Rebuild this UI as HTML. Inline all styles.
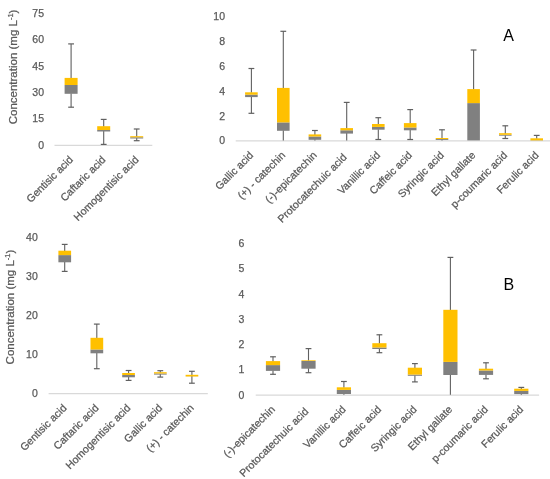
<!DOCTYPE html>
<html><head><meta charset="utf-8"><style>
html,body{margin:0;padding:0;background:#fff;}
svg{display:block;will-change:transform;}
text{font-family:"Liberation Sans", sans-serif;}
.tk{font-size:10.5px;fill:#595959;stroke:#595959;stroke-width:0.25px;}
.ct{font-size:10.6px;fill:#595959;stroke:#595959;stroke-width:0.25px;}
.yt{font-size:11.5px;fill:#595959;stroke:#595959;stroke-width:0.25px;}
.big{font-size:16px;fill:#000;}
</style></head><body>
<svg width="550" height="479" viewBox="0 0 550 479">
<line x1="54.5" y1="145.3" x2="152.3" y2="145.3" stroke="#d9d9d9" stroke-width="1.2"/>
<text x="44.0" y="148.8" text-anchor="end" class="tk">0</text>
<text x="44.0" y="122.4" text-anchor="end" class="tk">15</text>
<text x="44.0" y="96.0" text-anchor="end" class="tk">30</text>
<text x="44.0" y="69.6" text-anchor="end" class="tk">45</text>
<text x="44.0" y="43.2" text-anchor="end" class="tk">60</text>
<text x="44.0" y="16.8" text-anchor="end" class="tk">75</text>
<line x1="71.1" y1="43.9" x2="71.1" y2="78.4" stroke="#606060" stroke-width="1.1"/>
<line x1="71.1" y1="93.3" x2="71.1" y2="107.2" stroke="#606060" stroke-width="1.1"/>
<line x1="68.2" y1="43.9" x2="74.0" y2="43.9" stroke="#606060" stroke-width="1.2"/>
<line x1="68.2" y1="107.2" x2="74.0" y2="107.2" stroke="#606060" stroke-width="1.2"/>
<rect x="64.6" y="85.0" width="13.0" height="8.8" fill="#808080"/>
<rect x="64.6" y="77.9" width="13.0" height="7.1" fill="#FFC000"/>
<text transform="translate(73.7,160.3) rotate(-45)" text-anchor="end" class="ct">Gentisic acid</text>
<line x1="103.7" y1="119.4" x2="103.7" y2="126.7" stroke="#606060" stroke-width="1.1"/>
<line x1="103.7" y1="131.0" x2="103.7" y2="144.4" stroke="#606060" stroke-width="1.1"/>
<line x1="100.8" y1="119.4" x2="106.6" y2="119.4" stroke="#606060" stroke-width="1.2"/>
<line x1="100.8" y1="144.4" x2="106.6" y2="144.4" stroke="#606060" stroke-width="1.2"/>
<rect x="97.2" y="130.0" width="13.0" height="1.5" fill="#808080"/>
<rect x="97.2" y="126.2" width="13.0" height="3.8" fill="#FFC000"/>
<text transform="translate(106.3,160.3) rotate(-45)" text-anchor="end" class="ct">Caftaric acid</text>
<line x1="136.7" y1="129.0" x2="136.7" y2="136.7" stroke="#606060" stroke-width="1.1"/>
<line x1="136.7" y1="138.0" x2="136.7" y2="140.7" stroke="#606060" stroke-width="1.1"/>
<line x1="133.8" y1="129.0" x2="139.6" y2="129.0" stroke="#606060" stroke-width="1.2"/>
<line x1="133.8" y1="140.7" x2="139.6" y2="140.7" stroke="#606060" stroke-width="1.2"/>
<rect x="130.2" y="137.3" width="13.0" height="1.2" fill="#808080"/>
<rect x="130.2" y="136.2" width="13.0" height="1.1" fill="#FFC000"/>
<text transform="translate(139.3,160.3) rotate(-45)" text-anchor="end" class="ct">Homogentisic acid</text>
<line x1="235.7" y1="140.9" x2="552.0" y2="140.9" stroke="#d9d9d9" stroke-width="1.2"/>
<text x="225.0" y="144.4" text-anchor="end" class="tk">0</text>
<text x="225.0" y="119.5" text-anchor="end" class="tk">2</text>
<text x="225.0" y="94.7" text-anchor="end" class="tk">4</text>
<text x="225.0" y="69.8" text-anchor="end" class="tk">6</text>
<text x="225.0" y="44.9" text-anchor="end" class="tk">8</text>
<text x="225.0" y="20.1" text-anchor="end" class="tk">10</text>
<line x1="251.4" y1="68.5" x2="251.4" y2="92.8" stroke="#606060" stroke-width="1.1"/>
<line x1="251.4" y1="96.6" x2="251.4" y2="113.3" stroke="#606060" stroke-width="1.1"/>
<line x1="248.5" y1="68.5" x2="254.3" y2="68.5" stroke="#606060" stroke-width="1.2"/>
<line x1="248.5" y1="113.3" x2="254.3" y2="113.3" stroke="#606060" stroke-width="1.2"/>
<rect x="245.1" y="94.7" width="12.6" height="2.4" fill="#808080"/>
<rect x="245.1" y="92.3" width="12.6" height="2.4" fill="#FFC000"/>
<text transform="translate(254.0,155.9) rotate(-45)" text-anchor="end" class="ct">Gallic acid</text>
<line x1="283.3" y1="31.3" x2="283.3" y2="88.4" stroke="#606060" stroke-width="1.1"/>
<line x1="283.3" y1="130.3" x2="283.3" y2="140.6" stroke="#606060" stroke-width="1.1"/>
<line x1="280.4" y1="31.3" x2="286.2" y2="31.3" stroke="#606060" stroke-width="1.2"/>
<rect x="277.0" y="122.4" width="12.6" height="8.4" fill="#808080"/>
<rect x="277.0" y="87.9" width="12.6" height="34.5" fill="#FFC000"/>
<text transform="translate(285.9,155.9) rotate(-45)" text-anchor="end" class="ct">(+) - catechin</text>
<line x1="314.9" y1="130.5" x2="314.9" y2="134.9" stroke="#606060" stroke-width="1.1"/>
<line x1="314.9" y1="139.3" x2="314.9" y2="140.4" stroke="#606060" stroke-width="1.1"/>
<line x1="312.0" y1="130.5" x2="317.8" y2="130.5" stroke="#606060" stroke-width="1.2"/>
<rect x="308.6" y="136.5" width="12.6" height="3.3" fill="#808080"/>
<rect x="308.6" y="134.4" width="12.6" height="2.1" fill="#FFC000"/>
<text transform="translate(317.5,155.9) rotate(-45)" text-anchor="end" class="ct">(-)-epicatechin</text>
<line x1="346.7" y1="102.4" x2="346.7" y2="128.6" stroke="#606060" stroke-width="1.1"/>
<line x1="346.7" y1="133.1" x2="346.7" y2="140.4" stroke="#606060" stroke-width="1.1"/>
<line x1="343.8" y1="102.4" x2="349.6" y2="102.4" stroke="#606060" stroke-width="1.2"/>
<rect x="340.4" y="130.3" width="12.6" height="3.3" fill="#808080"/>
<rect x="340.4" y="128.1" width="12.6" height="2.2" fill="#FFC000"/>
<text transform="translate(347.4,157.9) rotate(-45)" text-anchor="end" class="ct">Protocatechuic acid</text>
<line x1="378.3" y1="117.7" x2="378.3" y2="124.5" stroke="#606060" stroke-width="1.1"/>
<line x1="378.3" y1="129.2" x2="378.3" y2="139.5" stroke="#606060" stroke-width="1.1"/>
<line x1="375.4" y1="117.7" x2="381.2" y2="117.7" stroke="#606060" stroke-width="1.2"/>
<line x1="375.4" y1="139.5" x2="381.2" y2="139.5" stroke="#606060" stroke-width="1.2"/>
<rect x="372.0" y="126.9" width="12.6" height="2.8" fill="#808080"/>
<rect x="372.0" y="124.0" width="12.6" height="2.9" fill="#FFC000"/>
<text transform="translate(380.9,155.9) rotate(-45)" text-anchor="end" class="ct">Vanillic acid</text>
<line x1="410.2" y1="109.6" x2="410.2" y2="123.6" stroke="#606060" stroke-width="1.1"/>
<line x1="410.2" y1="129.8" x2="410.2" y2="139.5" stroke="#606060" stroke-width="1.1"/>
<line x1="407.3" y1="109.6" x2="413.1" y2="109.6" stroke="#606060" stroke-width="1.2"/>
<line x1="407.3" y1="139.5" x2="413.1" y2="139.5" stroke="#606060" stroke-width="1.2"/>
<rect x="403.9" y="127.5" width="12.6" height="2.8" fill="#808080"/>
<rect x="403.9" y="123.1" width="12.6" height="4.4" fill="#FFC000"/>
<text transform="translate(412.8,155.9) rotate(-45)" text-anchor="end" class="ct">Caffeic acid</text>
<line x1="442.0" y1="129.8" x2="442.0" y2="138.5" stroke="#606060" stroke-width="1.1"/>
<line x1="442.0" y1="139.4" x2="442.0" y2="140.4" stroke="#606060" stroke-width="1.1"/>
<line x1="439.1" y1="129.8" x2="444.9" y2="129.8" stroke="#606060" stroke-width="1.2"/>
<rect x="435.7" y="139.0" width="12.6" height="0.9" fill="#808080"/>
<rect x="435.7" y="138.0" width="12.6" height="1.0" fill="#FFC000"/>
<text transform="translate(444.6,155.9) rotate(-45)" text-anchor="end" class="ct">Syringic acid</text>
<line x1="473.6" y1="50.0" x2="473.6" y2="89.6" stroke="#606060" stroke-width="1.1"/>
<line x1="470.7" y1="50.0" x2="476.5" y2="50.0" stroke="#606060" stroke-width="1.2"/>
<rect x="467.3" y="103.1" width="12.6" height="37.3" fill="#808080"/>
<rect x="467.3" y="89.1" width="12.6" height="14.0" fill="#FFC000"/>
<text transform="translate(476.2,155.9) rotate(-45)" text-anchor="end" class="ct">Ethyl gallate</text>
<line x1="505.3" y1="125.8" x2="505.3" y2="133.7" stroke="#606060" stroke-width="1.1"/>
<line x1="505.3" y1="135.2" x2="505.3" y2="138.5" stroke="#606060" stroke-width="1.1"/>
<line x1="502.4" y1="125.8" x2="508.2" y2="125.8" stroke="#606060" stroke-width="1.2"/>
<line x1="502.4" y1="138.5" x2="508.2" y2="138.5" stroke="#606060" stroke-width="1.2"/>
<rect x="499.0" y="134.8" width="12.6" height="0.9" fill="#808080"/>
<rect x="499.0" y="133.2" width="12.6" height="1.6" fill="#FFC000"/>
<text transform="translate(507.9,155.9) rotate(-45)" text-anchor="end" class="ct">p-coumaric acid</text>
<line x1="536.7" y1="135.4" x2="536.7" y2="138.8" stroke="#606060" stroke-width="1.1"/>
<line x1="533.8" y1="135.4" x2="539.6" y2="135.4" stroke="#606060" stroke-width="1.2"/>
<rect x="530.4" y="140.4" width="12.6" height="0.2" fill="#808080"/>
<rect x="530.4" y="138.3" width="12.6" height="2.1" fill="#FFC000"/>
<text transform="translate(539.3,155.9) rotate(-45)" text-anchor="end" class="ct">Ferulic acid</text>
<line x1="48.6" y1="393.6" x2="207.8" y2="393.6" stroke="#d9d9d9" stroke-width="1.2"/>
<text x="37.8" y="397.1" text-anchor="end" class="tk">0</text>
<text x="37.8" y="358.0" text-anchor="end" class="tk">10</text>
<text x="37.8" y="318.8" text-anchor="end" class="tk">20</text>
<text x="37.8" y="279.7" text-anchor="end" class="tk">30</text>
<text x="37.8" y="240.6" text-anchor="end" class="tk">40</text>
<line x1="64.7" y1="244.4" x2="64.7" y2="251.2" stroke="#606060" stroke-width="1.1"/>
<line x1="64.7" y1="261.8" x2="64.7" y2="271.4" stroke="#606060" stroke-width="1.1"/>
<line x1="61.8" y1="244.4" x2="67.6" y2="244.4" stroke="#606060" stroke-width="1.2"/>
<line x1="61.8" y1="271.4" x2="67.6" y2="271.4" stroke="#606060" stroke-width="1.2"/>
<rect x="58.4" y="255.1" width="12.7" height="7.2" fill="#808080"/>
<rect x="58.4" y="250.7" width="12.7" height="4.4" fill="#FFC000"/>
<text transform="translate(67.3,408.6) rotate(-45)" text-anchor="end" class="ct">Gentisic acid</text>
<line x1="96.8" y1="324.1" x2="96.8" y2="338.3" stroke="#606060" stroke-width="1.1"/>
<line x1="96.8" y1="352.8" x2="96.8" y2="368.7" stroke="#606060" stroke-width="1.1"/>
<line x1="93.9" y1="324.1" x2="99.7" y2="324.1" stroke="#606060" stroke-width="1.2"/>
<line x1="93.9" y1="368.7" x2="99.7" y2="368.7" stroke="#606060" stroke-width="1.2"/>
<rect x="90.5" y="349.5" width="12.7" height="3.8" fill="#808080"/>
<rect x="90.5" y="337.8" width="12.7" height="11.7" fill="#FFC000"/>
<text transform="translate(99.4,408.6) rotate(-45)" text-anchor="end" class="ct">Caftaric acid</text>
<line x1="128.6" y1="370.5" x2="128.6" y2="373.5" stroke="#606060" stroke-width="1.1"/>
<line x1="128.6" y1="376.8" x2="128.6" y2="380.4" stroke="#606060" stroke-width="1.1"/>
<line x1="125.7" y1="370.5" x2="131.5" y2="370.5" stroke="#606060" stroke-width="1.2"/>
<line x1="125.7" y1="380.4" x2="131.5" y2="380.4" stroke="#606060" stroke-width="1.2"/>
<rect x="122.2" y="375.0" width="12.7" height="2.3" fill="#808080"/>
<rect x="122.2" y="373.0" width="12.7" height="2.0" fill="#FFC000"/>
<text transform="translate(131.2,408.6) rotate(-45)" text-anchor="end" class="ct">Homogentisic acid</text>
<line x1="160.3" y1="370.7" x2="160.3" y2="372.7" stroke="#606060" stroke-width="1.1"/>
<line x1="160.3" y1="374.1" x2="160.3" y2="377.1" stroke="#606060" stroke-width="1.1"/>
<line x1="157.4" y1="370.7" x2="163.2" y2="370.7" stroke="#606060" stroke-width="1.2"/>
<line x1="157.4" y1="377.1" x2="163.2" y2="377.1" stroke="#606060" stroke-width="1.2"/>
<rect x="154.0" y="373.5" width="12.7" height="1.1" fill="#808080"/>
<rect x="154.0" y="372.2" width="12.7" height="1.3" fill="#FFC000"/>
<text transform="translate(162.9,408.6) rotate(-45)" text-anchor="end" class="ct">Gallic acid</text>
<line x1="191.9" y1="371.3" x2="191.9" y2="375.3" stroke="#606060" stroke-width="1.1"/>
<line x1="191.9" y1="376.1" x2="191.9" y2="383.2" stroke="#606060" stroke-width="1.1"/>
<line x1="189.0" y1="371.3" x2="194.8" y2="371.3" stroke="#606060" stroke-width="1.2"/>
<line x1="189.0" y1="383.2" x2="194.8" y2="383.2" stroke="#606060" stroke-width="1.2"/>
<rect x="185.6" y="376.5" width="12.7" height="0.1" fill="#808080"/>
<rect x="185.6" y="374.8" width="12.7" height="1.7" fill="#FFC000"/>
<text transform="translate(194.5,408.6) rotate(-45)" text-anchor="end" class="ct">(+) - catechin</text>
<line x1="255.7" y1="395.1" x2="539.1" y2="395.1" stroke="#d9d9d9" stroke-width="1.2"/>
<text x="244.3" y="398.6" text-anchor="end" class="tk">0</text>
<text x="244.3" y="373.3" text-anchor="end" class="tk">1</text>
<text x="244.3" y="348.0" text-anchor="end" class="tk">2</text>
<text x="244.3" y="322.8" text-anchor="end" class="tk">3</text>
<text x="244.3" y="297.5" text-anchor="end" class="tk">4</text>
<text x="244.3" y="272.3" text-anchor="end" class="tk">5</text>
<text x="244.3" y="247.0" text-anchor="end" class="tk">6</text>
<line x1="273.0" y1="356.8" x2="273.0" y2="361.6" stroke="#606060" stroke-width="1.1"/>
<line x1="273.0" y1="370.4" x2="273.0" y2="374.3" stroke="#606060" stroke-width="1.1"/>
<line x1="270.1" y1="356.8" x2="275.9" y2="356.8" stroke="#606060" stroke-width="1.2"/>
<line x1="270.1" y1="374.3" x2="275.9" y2="374.3" stroke="#606060" stroke-width="1.2"/>
<rect x="265.9" y="365.1" width="14.2" height="5.8" fill="#808080"/>
<rect x="265.9" y="361.1" width="14.2" height="4.0" fill="#FFC000"/>
<text transform="translate(275.6,410.1) rotate(-45)" text-anchor="end" class="ct">(-)-epicatechin</text>
<line x1="308.5" y1="348.6" x2="308.5" y2="360.8" stroke="#606060" stroke-width="1.1"/>
<line x1="308.5" y1="368.2" x2="308.5" y2="372.7" stroke="#606060" stroke-width="1.1"/>
<line x1="305.6" y1="348.6" x2="311.4" y2="348.6" stroke="#606060" stroke-width="1.2"/>
<line x1="305.6" y1="372.7" x2="311.4" y2="372.7" stroke="#606060" stroke-width="1.2"/>
<rect x="301.4" y="361.0" width="14.2" height="7.7" fill="#808080"/>
<rect x="301.4" y="360.3" width="14.2" height="0.7" fill="#FFC000"/>
<text transform="translate(309.2,412.1) rotate(-45)" text-anchor="end" class="ct">Protocatechuic acid</text>
<line x1="343.9" y1="381.5" x2="343.9" y2="387.8" stroke="#606060" stroke-width="1.1"/>
<line x1="343.9" y1="393.5" x2="343.9" y2="394.8" stroke="#606060" stroke-width="1.1"/>
<line x1="341.0" y1="381.5" x2="346.8" y2="381.5" stroke="#606060" stroke-width="1.2"/>
<rect x="336.8" y="389.9" width="14.2" height="4.1" fill="#808080"/>
<rect x="336.8" y="387.3" width="14.2" height="2.6" fill="#FFC000"/>
<text transform="translate(346.5,410.1) rotate(-45)" text-anchor="end" class="ct">Vanillic acid</text>
<line x1="379.4" y1="334.8" x2="379.4" y2="343.7" stroke="#606060" stroke-width="1.1"/>
<line x1="379.4" y1="348.5" x2="379.4" y2="352.7" stroke="#606060" stroke-width="1.1"/>
<line x1="376.5" y1="334.8" x2="382.3" y2="334.8" stroke="#606060" stroke-width="1.2"/>
<line x1="376.5" y1="352.7" x2="382.3" y2="352.7" stroke="#606060" stroke-width="1.2"/>
<rect x="372.3" y="347.5" width="14.2" height="1.5" fill="#808080"/>
<rect x="372.3" y="343.2" width="14.2" height="4.3" fill="#FFC000"/>
<text transform="translate(382.0,410.1) rotate(-45)" text-anchor="end" class="ct">Caffeic acid</text>
<line x1="414.9" y1="363.6" x2="414.9" y2="368.2" stroke="#606060" stroke-width="1.1"/>
<line x1="414.9" y1="375.3" x2="414.9" y2="381.9" stroke="#606060" stroke-width="1.1"/>
<line x1="412.0" y1="363.6" x2="417.8" y2="363.6" stroke="#606060" stroke-width="1.2"/>
<line x1="412.0" y1="381.9" x2="417.8" y2="381.9" stroke="#606060" stroke-width="1.2"/>
<rect x="407.8" y="374.6" width="14.2" height="1.2" fill="#808080"/>
<rect x="407.8" y="367.7" width="14.2" height="6.9" fill="#FFC000"/>
<text transform="translate(417.5,410.1) rotate(-45)" text-anchor="end" class="ct">Syringic acid</text>
<line x1="450.4" y1="257.4" x2="450.4" y2="310.3" stroke="#606060" stroke-width="1.1"/>
<line x1="450.4" y1="374.5" x2="450.4" y2="394.8" stroke="#606060" stroke-width="1.1"/>
<line x1="447.5" y1="257.4" x2="453.3" y2="257.4" stroke="#606060" stroke-width="1.2"/>
<rect x="443.3" y="361.9" width="14.2" height="13.1" fill="#808080"/>
<rect x="443.3" y="309.8" width="14.2" height="52.1" fill="#FFC000"/>
<text transform="translate(453.0,410.1) rotate(-45)" text-anchor="end" class="ct">Ethyl gallate</text>
<line x1="486.0" y1="362.8" x2="486.0" y2="369.2" stroke="#606060" stroke-width="1.1"/>
<line x1="486.0" y1="374.4" x2="486.0" y2="378.8" stroke="#606060" stroke-width="1.1"/>
<line x1="483.1" y1="362.8" x2="488.9" y2="362.8" stroke="#606060" stroke-width="1.2"/>
<line x1="483.1" y1="378.8" x2="488.9" y2="378.8" stroke="#606060" stroke-width="1.2"/>
<rect x="478.9" y="370.5" width="14.2" height="4.4" fill="#808080"/>
<rect x="478.9" y="368.7" width="14.2" height="1.8" fill="#FFC000"/>
<text transform="translate(488.6,410.1) rotate(-45)" text-anchor="end" class="ct">p-coumaric acid</text>
<line x1="521.3" y1="387.4" x2="521.3" y2="389.2" stroke="#606060" stroke-width="1.1"/>
<line x1="521.3" y1="393.6" x2="521.3" y2="394.8" stroke="#606060" stroke-width="1.1"/>
<line x1="518.4" y1="387.4" x2="524.2" y2="387.4" stroke="#606060" stroke-width="1.2"/>
<rect x="514.2" y="390.9" width="14.2" height="3.2" fill="#808080"/>
<rect x="514.2" y="388.7" width="14.2" height="2.2" fill="#FFC000"/>
<text transform="translate(523.9,410.1) rotate(-45)" text-anchor="end" class="ct">Ferulic acid</text>
<text transform="translate(17.4,124.3) rotate(-90)" class="yt">Concentration (mg L<tspan dy="-4" font-size="7.5px">-1</tspan><tspan dy="4">)</tspan></text>
<text transform="translate(14.1,364.4) rotate(-90)" class="yt">Concentration (mg L<tspan dy="-4" font-size="7.5px">-1</tspan><tspan dy="4">)</tspan></text>
<text x="503.2" y="40.5" class="big">A</text>
<text x="503.6" y="289.6" class="big">B</text>
</svg>
</body></html>
